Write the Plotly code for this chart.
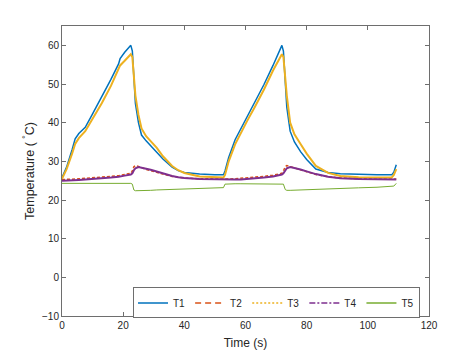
import plotly.graph_objects as go

# ---- data ----
time_s = [0, 1.5, 3.3, 4.3, 5.5, 7.6, 10, 13, 16, 18.5, 19, 20.5, 22.5, 23, 23.5, 24, 25, 26,
          27.5, 29, 31, 33, 36, 38, 40, 45, 50, 52.8, 53.3, 54.5, 56.6, 58.5, 60.5, 63, 66, 69,
          71.9, 72.4, 73, 73.5, 74.6, 76, 78, 80, 83, 87, 91, 97, 103, 107.8, 108.5, 109.3]

T1 = [25.8, 28.5, 33.0, 35.8, 37.2, 38.8, 42.3, 46.6, 51.2, 55.2, 56.6, 58.2, 60.0, 58.5, 51.0, 45.0, 40.0, 36.8,
      35.3, 34.0, 32.4, 30.6, 28.5, 27.6, 27.1, 26.7, 26.5, 26.5, 27.5, 31.0, 35.6, 38.5, 41.2, 45.2, 49.8, 54.8,
      60.0, 58.5, 50.0, 44.0, 37.8, 35.0, 32.5, 30.5, 28.0, 27.1, 26.8, 26.6, 26.5, 26.5, 27.2, 29.1]

T2 = [25.3, 25.3, 25.4, 25.4, 25.5, 25.6, 25.7, 25.9, 26.1, 26.3, 26.4, 26.6, 26.9, 27.5, 28.6, 28.9, 28.7, 28.3,
      27.9, 27.6, 27.1, 26.7, 26.1, 25.9, 25.7, 25.5, 25.4, 25.4, 25.4, 25.4, 25.5, 25.6, 25.7, 25.9, 26.1, 26.4,
      26.9, 27.5, 28.6, 28.9, 28.7, 28.3, 27.8, 27.3, 26.6, 26.0, 25.7, 25.5, 25.4, 25.4, 25.4, 25.4]

T3 = [25.5, 28.0, 32.0, 34.5, 36.0, 37.8, 41.0, 45.0, 49.5, 53.8, 54.8, 56.0, 57.7, 57.0, 52.0, 47.0, 42.0, 38.5,
      36.5, 35.2, 33.5, 31.3, 28.8, 27.7, 27.0, 26.1, 25.9, 25.8, 26.5, 30.0, 34.4, 37.5, 40.4, 44.0, 48.5, 53.5,
      57.7, 57.0, 52.0, 47.0, 40.0, 37.0, 34.5, 32.0, 28.8, 27.0, 26.2, 25.9, 25.8, 25.8, 26.5, 28.0]

T4 = [25.0, 25.1, 25.1, 25.2, 25.2, 25.3, 25.4, 25.6, 25.8, 26.0, 26.1, 26.3, 26.6, 26.9, 27.7, 28.2, 28.5, 28.4,
      28.1, 27.8, 27.3, 26.8, 26.2, 25.9, 25.7, 25.4, 25.3, 25.3, 25.2, 25.2, 25.3, 25.3, 25.4, 25.6, 25.8, 26.1,
      26.6, 26.9, 27.7, 28.2, 28.5, 28.3, 27.9, 27.4, 26.7, 26.0, 25.6, 25.4, 25.3, 25.3, 25.3, 25.3]

T5 = [24.3, 24.3, 24.3, 24.3, 24.3, 24.3, 24.3, 24.3, 24.3, 24.3, 24.3, 24.3, 24.3, 24.1, 22.6, 22.4, 22.4, 22.45,
      22.5, 22.5, 22.6, 22.65, 22.75, 22.8, 22.85, 22.95, 23.1, 23.2, 24.1, 24.2, 24.2, 24.2, 24.2, 24.2, 24.2, 24.2,
      24.2, 24.1, 22.7, 22.5, 22.5, 22.55, 22.6, 22.7, 22.8, 22.9, 23.0, 23.15, 23.3, 23.4, 23.6, 24.3]

series_names = ["T1", "T2", "T3", "T4", "T5"]
x_ticks = [0, 20, 40, 60, 80, 100, 120]
y_ticks = [-10, 0, 10, 20, 30, 40, 50, 60]

# ---- styles ----
colors = ["#0072BD", "#D95319", "#EDB120", "#7E2F8E", "#77AC30"]
plot_dash = ["solid", "3px,2px", "solid", "solid", "solid"]
legend_dash = ["solid", "6px,4px", "2px,2px", "6px,2px,2px,2px", "solid"]
widths = [1.5, 1.5, 2.0, 2.0, 1.0]

fig = go.Figure()
for name, ys, c, d, w in zip(series_names, [T1, T2, T3, T4, T5], colors, plot_dash, widths):
    fig.add_trace(go.Scatter(x=time_s, y=ys, mode="lines", name=name, showlegend=False,
                             legendgroup=name, line=dict(color=c, width=w, dash=d)))
# legend entries showing the line styles
for name, c, d in zip(series_names, colors, legend_dash):
    fig.add_trace(go.Scatter(x=[None], y=[None], mode="lines", name=name, legendgroup=name,
                             line=dict(color=c, width=1.5, dash=d)))

axis_color = "#6e6e6e"
common = dict(showgrid=False, zeroline=False, showline=True, linecolor=axis_color, linewidth=1,
              mirror="ticks", ticks="inside", ticklen=4, tickcolor=axis_color, tickwidth=1,
              automargin=False,
              tickfont=dict(family="Liberation Sans, Arial, sans-serif", size=10, color="#262626"))

# the page body adds an 8px offset, so the figure is sized 8px smaller
fig.update_layout(
    template="none",
    width=466, height=347,
    margin=dict(l=54, r=45, t=18, b=39),
    paper_bgcolor="white", plot_bgcolor="white",
    font=dict(family="Liberation Sans, Arial, sans-serif", size=12, color="#262626"),
    xaxis=dict(range=[0, 120], tickvals=x_ticks,
               title=dict(text="Time (s)", standoff=8, font=dict(size=12)), **common),
    yaxis=dict(range=[-10, 65], tickvals=y_ticks,
               title=dict(text="Temperature ( <sup>°</sup>C)", standoff=4, font=dict(size=12.5)), **common),
    legend=dict(orientation="h", x=0.9755, xanchor="right", y=0.045, yanchor="middle",
                bgcolor="white", bordercolor=axis_color, borderwidth=1,
                font=dict(size=10, color="#262626"), tracegroupgap=0, itemwidth=30),
    showlegend=True,
)

fig.write_html("out.html")
